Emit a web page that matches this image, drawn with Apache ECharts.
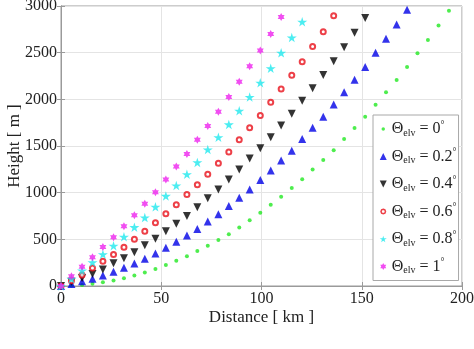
<!DOCTYPE html>
<html>
<head>
<meta charset="utf-8">
<script src="https://cdn.jsdelivr.net/npm/echarts@6/dist/echarts.min.js"></script>
<style>
  html, body { margin: 0; padding: 0; background: #fff; }
  #chart { width: 474px; height: 349px; }
</style>
</head>
<body>
<div id="chart"></div>
<script>
// Ground distance of each sample along the rays (km)
const distanceKm = [0, 5.2, 10.5, 15.7, 20.9, 26.2, 31.4, 36.6, 41.8, 47.1, 52.3, 57.5, 62.8, 68.0,
  73.2, 78.5, 83.7, 88.9, 94.1, 99.4, 104.6, 109.8, 115.1, 120.3, 125.5, 130.8, 136.0, 141.2,
  146.4, 151.7, 156.9, 162.1, 167.4, 172.6, 177.8, 183.0, 188.3, 193.5];

// Elevation angles (degrees) used for the legend entries
const elevations = ['0', '0.2', '0.4', '0.6', '0.8', '1'];

// Ray height above ground (m) for each elevation angle
const heightElv0 = [0, 5, 12, 24, 40, 60, 84, 112, 145, 182, 224, 270, 320, 374, 432, 494, 555, 627,
  705, 785, 871, 957, 1049, 1143, 1247, 1350, 1455, 1575, 1692, 1813, 1942, 2075, 2207, 2347, 2495,
  2637, 2791, 2949];
const heightElv02 = [0, 22, 50, 78, 112, 152, 195, 242, 293, 349, 409, 473, 540, 612, 690, 770, 856,
  946, 1035, 1135, 1237, 1344, 1449, 1576, 1695, 1813, 1944, 2075, 2211, 2347, 2500, 2648, 2802, 2960];
const heightElv04 = [0, 45, 86, 129, 178, 243, 297, 361, 437, 505, 587, 667, 750, 845, 940, 1035, 1140,
  1247, 1366, 1476, 1595, 1720, 1845, 1985, 2118, 2261, 2408, 2559, 2713, 2871];
const heightElv06 = [0, 57, 118, 194, 265, 337, 415, 501, 587, 677, 774, 871, 980, 1086, 1197, 1315,
  1437, 1566, 1695, 1828, 1968, 2111, 2258, 2404, 2566, 2724, 2896];
const heightElv08 = [0, 78, 165, 254, 340, 431, 528, 630, 733, 848, 965, 1077, 1197, 1324, 1462, 1593,
  1731, 1877, 2025, 2178, 2333, 2498, 2662, 2831];
const heightElv1 = [0, 105, 207, 308, 417, 523, 639, 757, 881, 1005, 1141, 1280, 1415, 1566, 1713,
  1867, 2025, 2189, 2355, 2523, 2699, 2882];

const xTicks = { min: 0, max: 200, interval: 50 };
const yTicks = { min: 0, max: 3000, interval: 500 };

const STAR = 'path://M50,0 L61,35 L98,35 L68,57 L79,91 L50,70 L21,91 L32,57 L2,35 L39,35 Z';
const HEXAGRAM = 'path://M50,0 L64,25 L93,25 L79,50 L93,75 L64,75 L50,100 L36,75 L7,75 L21,50 L7,25 L36,25 Z';
const DOWN_TRIANGLE = 'path://M0,0 L100,0 L50,100 Z';
// small shapes inside a padded box, so the legend icons stay tiny
const SMALL_DOT = 'path://M0,0 M100,100 M50,25 L68,32 L75,50 L68,68 L50,75 L32,68 L25,50 L32,32 Z';
const SMALL_RING = 'path://M0,0 M100,100 M50,18 L73,27 L82,50 L73,73 L50,82 L27,73 L18,50 L27,27 Z';

const pairs = (h) => h.map((v, i) => [distanceKm[i], v]);

const seriesDefs = [
  { h: heightElv0, symbol: 'circle', size: 4, color: '#22e822',
    legendItem: { icon: SMALL_DOT } },
  { h: heightElv02, symbol: 'triangle', size: 8, color: '#0000e6' },
  { h: heightElv04, symbol: DOWN_TRIANGLE, size: 8, color: '#000000' },
  { h: heightElv06, symbol: 'emptyCircle', size: 5, color: '#e8101a', border: 1.6,
    legendItem: { icon: SMALL_RING, itemStyle: { color: '#ffffff', borderColor: '#e8101a', borderWidth: 1.5 } } },
  { h: heightElv08, symbol: STAR, size: 10, color: '#1fe8ee' },
  { h: heightElv1, symbol: HEXAGRAM, size: 8, color: '#ee22ee' }
];

const FONT = '"Liberation Serif", "DejaVu Serif", serif';
const TXT = '#222222';
const FRAME = '#9a9a9a';

const chart = echarts.init(document.getElementById('chart'), null, { renderer: 'canvas' });

const baseAxis = {
  axisLine: { show: true, lineStyle: { color: FRAME, width: 1 } },
  axisTick: { show: true, inside: true, length: 4, lineStyle: { color: FRAME } },
  splitLine: { show: false }
};
const plain = (v) => String(v);

chart.setOption({
  animation: false,
  backgroundColor: '#ffffff',
  grid: {
    left: 61, right: 12, top: 6, bottom: 63,
    containLabel: false, outerBoundsMode: 'none',
    show: true, borderColor: FRAME, borderWidth: 1
  },
  xAxis: [
    Object.assign({}, baseAxis, {
      type: 'value', min: xTicks.min, max: xTicks.max, interval: xTicks.interval,
      position: 'bottom',
      name: 'Distance [ km ]', nameLocation: 'middle', nameGap: 23, nameMoveOverlap: false,
      nameTextStyle: { fontFamily: FONT, fontSize: 17, color: TXT },
      axisLabel: { fontFamily: FONT, fontSize: 16, color: TXT, margin: 5, formatter: plain },
      splitLine: { show: true, lineStyle: { color: '#e4e4e4', width: 1 } }
    }),
    Object.assign({}, baseAxis, {
      type: 'value', min: xTicks.min, max: xTicks.max, interval: xTicks.interval,
      position: 'top', axisLabel: { show: false }
    })
  ],
  yAxis: [
    Object.assign({}, baseAxis, {
      type: 'value', min: yTicks.min, max: yTicks.max, interval: yTicks.interval,
      position: 'left',
      name: 'Height [ m ]', nameLocation: 'middle', nameGap: 38, nameRotate: 90, nameMoveOverlap: false,
      nameTextStyle: { fontFamily: FONT, fontSize: 17, color: TXT },
      axisLabel: { fontFamily: FONT, fontSize: 16, color: TXT, margin: 4, formatter: plain },
      splitLine: { show: true, lineStyle: { color: '#e4e4e4', width: 1 } }
    }),
    Object.assign({}, baseAxis, {
      type: 'value', min: yTicks.min, max: yTicks.max, interval: yTicks.interval,
      position: 'right', axisLabel: { show: false }
    })
  ],
  legend: {
    orient: 'vertical',
    left: 373, top: 115,
    padding: [5, 2, 5, 6],
    itemGap: 9.5,
    itemWidth: 7, itemHeight: 7,
    backgroundColor: '#ffffff',
    borderColor: '#a8a8a8', borderWidth: 1,
    selectedMode: false,
    data: elevations.map((e, k) => Object.assign({ name: e }, seriesDefs[k].legendItem || {})),
    formatter: (name) => '{t|Θ}{s|elv}{t| = ' + name + '}{d|°}',
    textStyle: {
      fontFamily: FONT, color: TXT,
      rich: {
        t: { fontFamily: FONT, fontSize: 16, color: TXT, lineHeight: 18, verticalAlign: 'middle' },
        s: { fontFamily: FONT, fontSize: 10, color: TXT, lineHeight: 10, verticalAlign: 'bottom' },
        d: { fontFamily: FONT, fontSize: 10, color: TXT, lineHeight: 10, verticalAlign: 'top' }
      }
    }
  },
  series: seriesDefs.map((d, k) => ({
    name: elevations[k],
    type: 'scatter',
    xAxisIndex: 0, yAxisIndex: 0,
    symbol: d.symbol,
    symbolSize: d.size,
    symbolKeepAspect: true,
    itemStyle: d.border
      ? { color: d.color, borderColor: d.color, borderWidth: d.border }
      : { color: d.color },
    data: pairs(d.h)
  }))
});
</script>
</body>
</html>
